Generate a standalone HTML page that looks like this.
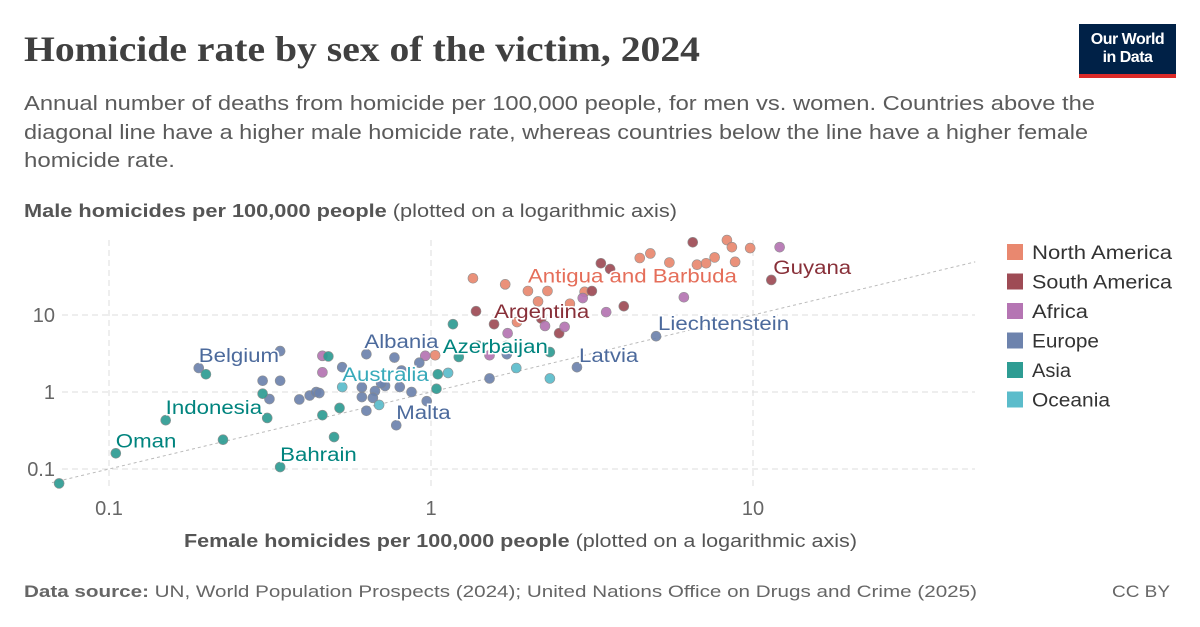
<!DOCTYPE html>
<html><head><meta charset="utf-8"><style>
body{margin:0;background:#fff;width:1200px;height:627px;overflow:hidden;font-family:"Liberation Sans",sans-serif}
#wrap{position:relative;width:1200px;height:627px}
</style></head><body><div id="wrap">
<svg id="txt" width="1200" height="627" style="position:absolute;left:0;top:0" font-family="Liberation Sans, sans-serif">
<text x="24" y="61" font-family="Liberation Serif, serif" font-weight="bold" font-size="36" fill="#404040" textLength="676" lengthAdjust="spacingAndGlyphs">Homicide rate by sex of the victim, 2024</text>
<g font-size="20" fill="#5b5b5b">
<text x="24" y="110" textLength="1071" lengthAdjust="spacingAndGlyphs">Annual number of deaths from homicide per 100,000 people, for men vs. women. Countries above the</text>
<text x="24" y="139" textLength="1064" lengthAdjust="spacingAndGlyphs">diagonal line have a higher male homicide rate, whereas countries below the line have a higher female</text>
<text x="24" y="167" textLength="151" lengthAdjust="spacingAndGlyphs">homicide rate.</text>
</g>
<text x="24" y="217" font-size="18" fill="#555" textLength="653" lengthAdjust="spacingAndGlyphs"><tspan font-weight="bold">Male homicides per 100,000 people</tspan> (plotted on a logarithmic axis)</text>
<text x="184" y="547" font-size="18" fill="#555" textLength="673" lengthAdjust="spacingAndGlyphs"><tspan font-weight="bold">Female homicides per 100,000 people</tspan> (plotted on a logarithmic axis)</text>
<text x="24" y="597" font-size="17" fill="#666" textLength="953" lengthAdjust="spacingAndGlyphs"><tspan font-weight="bold">Data source:</tspan> UN, World Population Prospects (2024); United Nations Office on Drugs and Crime (2025)</text>
<text x="1112" y="597" font-size="17" fill="#666" textLength="58" lengthAdjust="spacingAndGlyphs">CC BY</text>
</svg>
<div style="position:absolute;left:1079px;top:24px;width:97px;height:54px;background:#002147;border-bottom:4px solid #dc2a28;box-sizing:border-box;color:#fff;font-size:16px;font-weight:bold;line-height:18px;text-align:center;padding-top:7px;letter-spacing:-0.5px">Our World<br>in Data</div>
<svg id="chart" width="1200" height="627" style="position:absolute;left:0;top:0" font-family="Liberation Sans, sans-serif"></svg>
</div>
<script>
const xTicks=[0.1,1,10];
const xTickLabels=["0.1","1","10"];
const yTicks=[0.1,1,10];
const yTickLabels=["0.1","1","10"];
const regions=["North America","South America","Africa","Europe","Asia","Oceania"];
const regionColors=["#e9886f","#9e4b55","#b575b3","#6d83ad","#2e9c93","#5bbccb"];
const labelColors=["#e56e5a","#883039","#a2559c","#4c6a9c","#00847e","#38aaba"];
const legendLengths=[140,140,56,67,39,78];
const femaleNA=[1.03,1.35,1.7,2.0,2.3,2.15,1.85,3.0,4.45,4.8,5.5,6.7,7.15,7.6,8.3,8.6,8.8,9.8,2.7];
const maleNA=[3.0,30,25,20.5,20.5,15,8.1,20,55,63,48,45,47,56,94,76,49,74,14];
const femaleSA=[1.38,1.57,2.5,3.37,3.6,3.16,3.97,6.5,11.4,2.2];
const maleSA=[11.2,7.6,5.8,47,39.5,20.5,13,88,28.5,9];
const femaleAF=[0.46,0.46,0.96,1.52,2.26,3.5,2.96,6.1,12.1,1.73,2.6];
const maleAF=[2.95,1.8,2.95,3.0,7.2,10.9,16.6,17,76,5.8,7];
const femaleEU=[0.19,0.34,0.3,0.34,0.315,0.39,0.42,0.44,0.45,0.63,0.53,0.61,0.67,0.61,0.66,0.63,0.72,0.77,0.81,0.8,0.87,0.97,0.78,1.52,1.72,2.84,5.0,1.71,0.7,0.92];
const maleEU=[2.05,3.4,1.4,1.4,0.81,0.8,0.9,1.0,0.97,3.1,2.1,1.15,1.03,0.86,0.84,0.57,1.2,2.8,1.9,1.16,1.0,0.76,0.37,1.5,3.1,2.1,5.3,3.95,1.3,2.4];
const femaleAS=[0.07,0.105,0.15,0.226,0.2,0.3,0.31,0.34,0.46,0.5,0.52,0.48,1.17,1.22,1.04,1.05,2.34,1.4];
const maleAS=[0.065,0.16,0.43,0.24,1.7,0.95,0.46,0.106,0.5,0.26,0.62,2.9,7.6,2.85,1.1,1.7,3.3,4];
const femaleOC=[0.53,0.69,1.13,1.84,2.34];
const maleOC=[1.16,0.68,1.77,2.05,1.5];
const labelNames=["Guyana","Antigua and Barbuda","Argentina","Liechtenstein","Latvia","Azerbaijan","Albania","Belgium","Australia","Malta","Indonesia","Oman","Bahrain"];
const labelFemale=[11.4,1.35,1.57,5.0,2.84,1.22,0.63,0.19,0.53,0.78,0.15,0.105,0.34];
const labelMale=[28.5,30,7.6,5.3,2.1,2.85,3.1,2.05,1.16,0.37,0.43,0.16,0.106];
const labelRegion=[1,0,1,3,3,4,3,3,5,3,4,4,4];
const labelDx=[2,55,0,2,2,-16,-2,0,0,0,0,0,0];
const labelDy=[-6,4,-6,-6,-5,-4,-6,-6,-6,-6,-6,-6,-6];

const svg=document.getElementById('chart');
const NS='http://www.w3.org/2000/svg';
const X0=62,X1=975,YT=240,YB=490;
function xs(v){return 431+Math.log10(v)*322;}
function ys(v){return 392-Math.log10(v)*77;}
function mk(t,a){const e=document.createElementNS(NS,t);for(const k in a)e.setAttribute(k,a[k]);svg.appendChild(e);return e;}
function stretch(t,f){const L=t.getComputedTextLength();t.setAttribute('textLength',L*f);t.setAttribute('lengthAdjust','spacingAndGlyphs');}
yTicks.forEach((v,i)=>{
 const g=mk('line',{x1:X0,x2:X1,y1:ys(v),y2:ys(v),stroke:'#dddddd','stroke-dasharray':'6,4'});
 
 
 const t=mk('text',{x:55,y:ys(v)+7,'text-anchor':'end','font-size':20,fill:'#666'});
 t.textContent=yTickLabels[i];
 
 
});
xTicks.forEach((v,i)=>{
 const g=mk('line',{x1:xs(v),x2:xs(v),y1:YT,y2:YB,stroke:'#dddddd','stroke-dasharray':'6,4'});
 
 
 const t=mk('text',{x:xs(v),y:515,'text-anchor':'middle','font-size':20,fill:'#666'});
 t.textContent=xTickLabels[i];
 
 
});
const diag=mk('line',{x1:xs(0.0665),y1:ys(0.0665),x2:xs(49),y2:ys(49),stroke:'#bbbbbb','stroke-dasharray':'3,3'});


const sets=[[femaleNA,maleNA],[femaleSA,maleSA],[femaleAF,maleAF],[femaleEU,maleEU],[femaleAS,maleAS],[femaleOC,maleOC]];
sets.forEach((s,r)=>{
 s[0].forEach((f,i)=>{
  const c=mk('circle',{cx:xs(f),cy:ys(s[1][i]),r:5,fill:regionColors[r],stroke:'#888','stroke-width':0.6,opacity:0.92});
  
  
 });
});
labelNames.forEach((n,i)=>{
 const t=mk('text',{x:xs(labelFemale[i])+labelDx[i],y:ys(labelMale[i])+labelDy[i],'font-size':19,fill:labelColors[labelRegion[i]],stroke:'#fff','stroke-width':3,'paint-order':'stroke'});
 t.textContent=n;
 
 
 stretch(t,1.17);
});
regions.forEach((n,i)=>{
 const y=252+i*29.5;
 const r=mk('rect',{x:1007,y:y-8,width:16,height:16,fill:regionColors[i]});
 
 
 const t=mk('text',{x:1032,y:y+7,'font-size':19,fill:'#333',textLength:legendLengths[i],lengthAdjust:'spacingAndGlyphs'});
 t.textContent=n;
 
 
});
</script>
</body></html>
